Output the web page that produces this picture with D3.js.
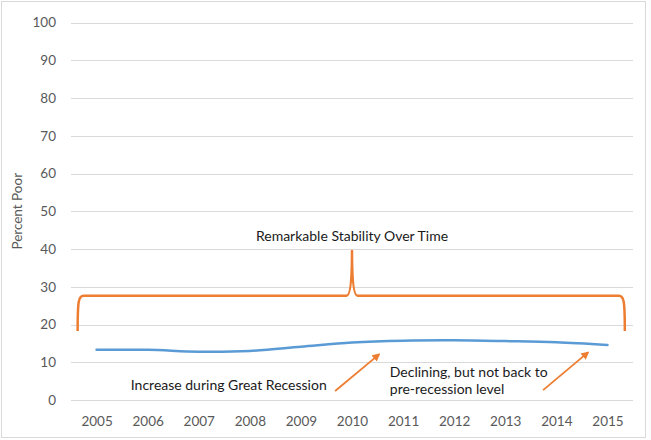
<!DOCTYPE html>
<html>
<head>
<meta charset="utf-8">
<script src="https://cdn.jsdelivr.net/npm/d3@7/dist/d3.min.js"></script>
<style>
  body { margin: 0; background: #fff; }
  text { font-family: Lato, "Open Sans", sans-serif; }
</style>
</head>
<body>
<svg id="chart" width="651" height="440"></svg>
<script>
// ---- data ----
const years = [2005, 2006, 2007, 2008, 2009, 2010, 2011, 2012, 2013, 2014, 2015];
const percentPoor = [13.3, 13.3, 12.8, 13.0, 14.1, 15.2, 15.7, 15.8, 15.6, 15.3, 14.6];
const yTicks = [0, 10, 20, 30, 40, 50, 60, 70, 80, 90, 100];
const yTitle = "Percent Poor";
// brace annotation (data units)
const braceStart = 2004.63, braceEnd = 2015.34, braceLevel = 27.6, braceFoot = 18.3;
const bracePeakYear = 2010, bracePeak = 39.5;
const annotations = [
  { text: "Remarkable Stability Over Time", x: 2010.0, y: 42.2, anchor: "middle" },
  { text: "Increase during Great Recession", x: 2005.67, y: 2.7, anchor: "start" },
  { text: "Declining, but not back to", x: 2010.74, y: 6.2, anchor: "start" },
  { text: "pre-recession level", x: 2010.74, y: 1.5, anchor: "start" }
];
const arrows = [
  { x1: 2009.67, y1: 2.4, x2: 2010.53, y2: 12.1 },
  { x1: 2013.74, y1: 2.6, x2: 2014.62, y2: 12.6 }
];

// ---- layout ----
const svg = d3.select("#chart");
const mLeft = 71, mRight = 633, mTop = 22.5, mBottom = 400;
const blue = "#5B9BD5", orange = "#ED7D31";

svg.append("rect").attr("x", 1.5).attr("y", 1.5).attr("width", 644).attr("height", 436)
  .attr("fill", "#fff").attr("stroke", "#d9d9d9").attr("stroke-width", 1);

const x = d3.scaleLinear().domain([years[0] - 0.5, years[years.length - 1] + 0.5]).range([mLeft, mRight]);
const y = d3.scaleLinear().domain([0, 100]).range([mBottom, mTop]);

// gridlines
svg.append("g").selectAll("line").data(yTicks).join("line")
  .attr("x1", mLeft).attr("x2", mRight)
  .attr("y1", d => Math.round(y(d)) + 0.5).attr("y2", d => Math.round(y(d)) + 0.5)
  .attr("stroke", "#d9d9d9").attr("stroke-width", 1);

// y axis
const yAxis = svg.append("g").attr("transform", `translate(${mLeft},0)`)
  .call(d3.axisLeft(y).tickValues(yTicks).tickSize(0).tickPadding(15));
yAxis.select(".domain").remove();
yAxis.selectAll("text").attr("font-size", 13.5).attr("fill", "#595959")
  .style("font-family", "Lato, 'Open Sans', sans-serif");

// x axis
const xAxis = svg.append("g").attr("transform", `translate(0,${mBottom})`)
  .call(d3.axisBottom(x).tickValues(years).tickFormat(d3.format("d")).tickSize(0).tickPadding(16));
xAxis.select(".domain").remove();
xAxis.selectAll("text").attr("font-size", 13.5).attr("fill", "#595959")
  .style("font-family", "Lato, 'Open Sans', sans-serif");

// y title
svg.append("text").attr("transform", `translate(22,${(mTop + mBottom) / 2}) rotate(-90)`)
  .attr("text-anchor", "middle").attr("font-size", 13.5).attr("fill", "#595959").text(yTitle);

// line
const line = d3.line().x((d, i) => x(years[i])).y(d => y(d)).curve(d3.curveCatmullRom.alpha(0.5));
svg.append("path").datum(percentPoor).attr("d", line)
  .attr("fill", "none").attr("stroke", blue).attr("stroke-width", 2.5).attr("stroke-linecap", "round");

// brace
const bx0 = x(braceStart), bx1 = x(braceEnd), by = y(braceLevel), bf = y(braceFoot);
const px = x(bracePeakYear), py = y(bracePeak);
const r = 6, sw = 5.5;
const p = d3.path();
p.moveTo(bx0, bf);
p.bezierCurveTo(bx0, by + 4, bx0 + 1, by, bx0 + r, by);
p.lineTo(px - sw, by);
p.quadraticCurveTo(px, by, px, py);
p.quadraticCurveTo(px, by, px + sw, by);
p.lineTo(bx1 - r, by);
p.bezierCurveTo(bx1 - 1, by, bx1, by + 4, bx1, bf);
svg.append("path").attr("d", p.toString()).attr("fill", "none")
  .attr("stroke", orange).attr("stroke-width", 2.5).attr("stroke-linejoin", "round");

// arrows
svg.append("defs").append("marker").attr("id", "ah")
  .attr("viewBox", "0 0 10 10").attr("refX", 8).attr("refY", 5)
  .attr("markerWidth", 4.5).attr("markerHeight", 4.5).attr("orient", "auto")
  .append("path").attr("d", "M0,0 L10,5 L0,10 z").attr("fill", orange);
svg.append("g").selectAll("line").data(arrows).join("line")
  .attr("x1", d => x(d.x1)).attr("y1", d => y(d.y1))
  .attr("x2", d => x(d.x2)).attr("y2", d => y(d.y2))
  .attr("stroke", orange).attr("stroke-width", 1.8).attr("marker-end", "url(#ah)");

// annotation texts
svg.append("g").selectAll("text").data(annotations).join("text")
  .attr("x", d => x(d.x)).attr("y", d => y(d.y)).attr("text-anchor", d => d.anchor)
  .attr("font-size", 14).attr("fill", "#1a1a1a").text(d => d.text);
</script>
</body>
</html>
